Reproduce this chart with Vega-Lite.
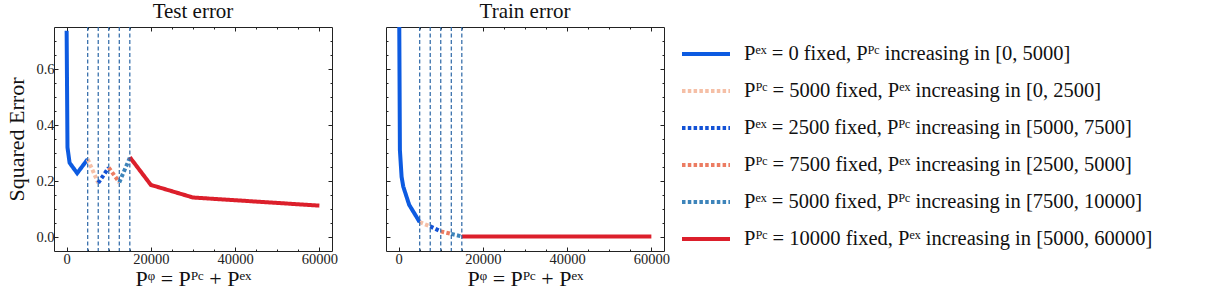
{
  "$schema": "https://vega.github.io/schema/vega-lite/v6.json",
  "padding": {"left": 5, "top": 0, "right": 0, "bottom": 0},
  "datasets": {
    "curves": [
      {"panel": "test", "series": "Pᵉˣ = 0 fixed, Pᴾᶜ increasing in [0, 5000]", "x": 0, "y": 0.737},
      {"panel": "test", "series": "Pᵉˣ = 0 fixed, Pᴾᶜ increasing in [0, 5000]", "x": 200, "y": 0.32},
      {"panel": "test", "series": "Pᵉˣ = 0 fixed, Pᴾᶜ increasing in [0, 5000]", "x": 700, "y": 0.265},
      {"panel": "test", "series": "Pᵉˣ = 0 fixed, Pᴾᶜ increasing in [0, 5000]", "x": 2500, "y": 0.228},
      {"panel": "test", "series": "Pᵉˣ = 0 fixed, Pᴾᶜ increasing in [0, 5000]", "x": 5000, "y": 0.278},
      {"panel": "test", "series": "Pᴾᶜ = 5000 fixed, Pᵉˣ increasing in [0, 2500]", "x": 5000, "y": 0.278},
      {"panel": "test", "series": "Pᴾᶜ = 5000 fixed, Pᵉˣ increasing in [0, 2500]", "x": 7500, "y": 0.193},
      {"panel": "test", "series": "Pᵉˣ = 2500 fixed, Pᴾᶜ increasing in [5000, 7500]", "x": 7500, "y": 0.193},
      {"panel": "test", "series": "Pᵉˣ = 2500 fixed, Pᴾᶜ increasing in [5000, 7500]", "x": 10000, "y": 0.248},
      {"panel": "test", "series": "Pᴾᶜ = 7500 fixed, Pᵉˣ increasing in [2500, 5000]", "x": 10000, "y": 0.248},
      {"panel": "test", "series": "Pᴾᶜ = 7500 fixed, Pᵉˣ increasing in [2500, 5000]", "x": 12500, "y": 0.195},
      {"panel": "test", "series": "Pᵉˣ = 5000 fixed, Pᴾᶜ increasing in [7500, 10000]", "x": 12500, "y": 0.195},
      {"panel": "test", "series": "Pᵉˣ = 5000 fixed, Pᴾᶜ increasing in [7500, 10000]", "x": 15000, "y": 0.283},
      {"panel": "test", "series": "Pᴾᶜ = 10000 fixed, Pᵉˣ increasing in [5000, 60000]", "x": 15000, "y": 0.285},
      {"panel": "test", "series": "Pᴾᶜ = 10000 fixed, Pᵉˣ increasing in [5000, 60000]", "x": 20000, "y": 0.186},
      {"panel": "test", "series": "Pᴾᶜ = 10000 fixed, Pᵉˣ increasing in [5000, 60000]", "x": 30000, "y": 0.141},
      {"panel": "test", "series": "Pᴾᶜ = 10000 fixed, Pᵉˣ increasing in [5000, 60000]", "x": 60000, "y": 0.112},
      {"panel": "train", "series": "Pᵉˣ = 0 fixed, Pᴾᶜ increasing in [0, 5000]", "x": 0, "y": 1.2},
      {"panel": "train", "series": "Pᵉˣ = 0 fixed, Pᴾᶜ increasing in [0, 5000]", "x": 300, "y": 0.31},
      {"panel": "train", "series": "Pᵉˣ = 0 fixed, Pᴾᶜ increasing in [0, 5000]", "x": 700, "y": 0.215},
      {"panel": "train", "series": "Pᵉˣ = 0 fixed, Pᴾᶜ increasing in [0, 5000]", "x": 1100, "y": 0.18},
      {"panel": "train", "series": "Pᵉˣ = 0 fixed, Pᴾᶜ increasing in [0, 5000]", "x": 2500, "y": 0.115},
      {"panel": "train", "series": "Pᵉˣ = 0 fixed, Pᴾᶜ increasing in [0, 5000]", "x": 5000, "y": 0.053},
      {"panel": "train", "series": "Pᴾᶜ = 5000 fixed, Pᵉˣ increasing in [0, 2500]", "x": 5000, "y": 0.053},
      {"panel": "train", "series": "Pᴾᶜ = 5000 fixed, Pᵉˣ increasing in [0, 2500]", "x": 7500, "y": 0.038},
      {"panel": "train", "series": "Pᵉˣ = 2500 fixed, Pᴾᶜ increasing in [5000, 7500]", "x": 7500, "y": 0.038},
      {"panel": "train", "series": "Pᵉˣ = 2500 fixed, Pᴾᶜ increasing in [5000, 7500]", "x": 10000, "y": 0.02},
      {"panel": "train", "series": "Pᴾᶜ = 7500 fixed, Pᵉˣ increasing in [2500, 5000]", "x": 10000, "y": 0.02},
      {"panel": "train", "series": "Pᴾᶜ = 7500 fixed, Pᵉˣ increasing in [2500, 5000]", "x": 12500, "y": 0.011},
      {"panel": "train", "series": "Pᵉˣ = 5000 fixed, Pᴾᶜ increasing in [7500, 10000]", "x": 12500, "y": 0.011},
      {"panel": "train", "series": "Pᵉˣ = 5000 fixed, Pᴾᶜ increasing in [7500, 10000]", "x": 15000, "y": 0.002},
      {"panel": "train", "series": "Pᴾᶜ = 10000 fixed, Pᵉˣ increasing in [5000, 60000]", "x": 15000, "y": 0.002},
      {"panel": "train", "series": "Pᴾᶜ = 10000 fixed, Pᵉˣ increasing in [5000, 60000]", "x": 20000, "y": 0.002},
      {"panel": "train", "series": "Pᴾᶜ = 10000 fixed, Pᵉˣ increasing in [5000, 60000]", "x": 30000, "y": 0.002},
      {"panel": "train", "series": "Pᴾᶜ = 10000 fixed, Pᵉˣ increasing in [5000, 60000]", "x": 60000, "y": 0.002}
    ],
    "splits": [{"x": 5000}, {"x": 7500}, {"x": 10000}, {"x": 12500}, {"x": 15000}]
  },
  "hconcat": [
    {
      "title": {"text": "Test error"},
      "width": 278,
      "height": 224,
      "layer": [
        {
          "data": {"name": "curves"},
          "transform": [{"filter": "datum.panel === 'test'"}],
          "mark": {"type": "line", "strokeWidth": 4, "clip": true},
          "encoding": {
            "x": {"field": "x", "type": "quantitative", "scale": {"domain": [-3000, 63000], "nice": false, "zero": false},
              "axis": {"orient": "bottom", "values": [0, 5000, 10000, 15000, 20000, 25000, 30000, 35000, 40000, 45000, 50000, 55000, 60000], "format": "d",
                "labelExpr": "datum.value % 20000 === 0 ? datum.label : ''",
                "tickSize": {"condition": {"test": "datum.value % 20000 === 0", "value": -4}, "value": -2},
                "title": "Pᵠ = Pᴾᶜ + Pᵉˣ"}},
            "y": {"field": "y", "type": "quantitative", "scale": {"domain": [-0.05, 0.75], "nice": false, "zero": false},
              "axis": {"orient": "left", "values": [0, 0.05, 0.1, 0.15, 0.2, 0.25, 0.3, 0.35, 0.4, 0.45, 0.5, 0.55, 0.6, 0.65, 0.7], "format": ".1f",
                "labelExpr": "abs(datum.value / 0.2 - round(datum.value / 0.2)) < 0.001 ? datum.label : ''",
                "tickSize": {"condition": {"test": "abs(datum.value / 0.2 - round(datum.value / 0.2)) < 0.001", "value": -4}, "value": -2},
                "labelPadding": 4, "titlePadding": 7,
                "title": "Squared Error"}},
            "color": {"field": "series", "type": "nominal", "sort": null,
              "scale": {"domain": ["Pᵉˣ = 0 fixed, Pᴾᶜ increasing in [0, 5000]", "Pᴾᶜ = 5000 fixed, Pᵉˣ increasing in [0, 2500]", "Pᵉˣ = 2500 fixed, Pᴾᶜ increasing in [5000, 7500]", "Pᴾᶜ = 7500 fixed, Pᵉˣ increasing in [2500, 5000]", "Pᵉˣ = 5000 fixed, Pᴾᶜ increasing in [7500, 10000]", "Pᴾᶜ = 10000 fixed, Pᵉˣ increasing in [5000, 60000]"],
                "range": ["#0d5be1", "#f5bfa6", "#1352d6", "#ec7c62", "#3d84ba", "#dc1f2b"]},
              "legend": {"title": null}},
            "strokeDash": {"field": "series", "type": "nominal", "sort": null,
              "scale": {"domain": ["Pᵉˣ = 0 fixed, Pᴾᶜ increasing in [0, 5000]", "Pᴾᶜ = 5000 fixed, Pᵉˣ increasing in [0, 2500]", "Pᵉˣ = 2500 fixed, Pᴾᶜ increasing in [5000, 7500]", "Pᴾᶜ = 7500 fixed, Pᵉˣ increasing in [2500, 5000]", "Pᵉˣ = 5000 fixed, Pᴾᶜ increasing in [7500, 10000]", "Pᴾᶜ = 10000 fixed, Pᵉˣ increasing in [5000, 60000]"],
                "range": [[1, 0], [3.5, 2.3], [3.5, 2.3], [3.5, 2.3], [3.5, 2.3], [1, 0]]},
              "legend": {"title": null}}
          }
        },
        {
          "data": {"name": "splits"},
          "mark": {"type": "rule", "color": "#2a66a6", "strokeDash": [4, 2.5], "strokeWidth": 1.2},
          "encoding": {
            "x": {"field": "x", "type": "quantitative", "scale": {"domain": [-3000, 63000], "nice": false, "zero": false},
              "axis": {"orient": "top", "values": [0, 5000, 10000, 15000, 20000, 25000, 30000, 35000, 40000, 45000, 50000, 55000, 60000], "labels": false,
                "tickSize": {"condition": {"test": "datum.value % 20000 === 0", "value": -4}, "value": -2}, "title": null}}
          }
        },
        {
          "data": {"name": "curves"},
          "transform": [{"filter": "datum.panel === 'test'"}],
          "mark": {"type": "line", "opacity": 0, "clip": true},
          "encoding": {
            "x": {"field": "x", "type": "quantitative", "scale": {"domain": [-3000, 63000], "nice": false, "zero": false}, "axis": null},
            "y": {"field": "y", "type": "quantitative", "scale": {"domain": [-0.05, 0.75], "nice": false, "zero": false},
              "axis": {"orient": "right", "values": [0, 0.05, 0.1, 0.15, 0.2, 0.25, 0.3, 0.35, 0.4, 0.45, 0.5, 0.55, 0.6, 0.65, 0.7], "labels": false,
                "tickSize": {"condition": {"test": "abs(datum.value / 0.2 - round(datum.value / 0.2)) < 0.001", "value": -4}, "value": -2}, "title": null}}
          }
        }
      ],
      "resolve": {"axis": {"x": "independent", "y": "independent"}}
    },
    {
      "title": {"text": "Train error"},
      "width": 278,
      "height": 224,
      "layer": [
        {
          "data": {"name": "curves"},
          "transform": [{"filter": "datum.panel === 'train'"}],
          "mark": {"type": "line", "strokeWidth": 4, "clip": true},
          "encoding": {
            "x": {"field": "x", "type": "quantitative", "scale": {"domain": [-3000, 63000], "nice": false, "zero": false},
              "axis": {"orient": "bottom", "values": [0, 5000, 10000, 15000, 20000, 25000, 30000, 35000, 40000, 45000, 50000, 55000, 60000], "format": "d",
                "labelExpr": "datum.value % 20000 === 0 ? datum.label : ''",
                "tickSize": {"condition": {"test": "datum.value % 20000 === 0", "value": -4}, "value": -2},
                "title": "Pᵠ = Pᴾᶜ + Pᵉˣ"}},
            "y": {"field": "y", "type": "quantitative", "scale": {"domain": [-0.05, 0.75], "nice": false, "zero": false},
              "axis": {"orient": "left", "values": [0, 0.05, 0.1, 0.15, 0.2, 0.25, 0.3, 0.35, 0.4, 0.45, 0.5, 0.55, 0.6, 0.65, 0.7], "labels": false,
                "tickSize": {"condition": {"test": "abs(datum.value / 0.2 - round(datum.value / 0.2)) < 0.001", "value": -4}, "value": -2},
                "title": null}},
            "color": {"field": "series", "type": "nominal", "sort": null,
              "scale": {"domain": ["Pᵉˣ = 0 fixed, Pᴾᶜ increasing in [0, 5000]", "Pᴾᶜ = 5000 fixed, Pᵉˣ increasing in [0, 2500]", "Pᵉˣ = 2500 fixed, Pᴾᶜ increasing in [5000, 7500]", "Pᴾᶜ = 7500 fixed, Pᵉˣ increasing in [2500, 5000]", "Pᵉˣ = 5000 fixed, Pᴾᶜ increasing in [7500, 10000]", "Pᴾᶜ = 10000 fixed, Pᵉˣ increasing in [5000, 60000]"],
                "range": ["#0d5be1", "#f5bfa6", "#1352d6", "#ec7c62", "#3d84ba", "#dc1f2b"]},
              "legend": {"title": null}},
            "strokeDash": {"field": "series", "type": "nominal", "sort": null,
              "scale": {"domain": ["Pᵉˣ = 0 fixed, Pᴾᶜ increasing in [0, 5000]", "Pᴾᶜ = 5000 fixed, Pᵉˣ increasing in [0, 2500]", "Pᵉˣ = 2500 fixed, Pᴾᶜ increasing in [5000, 7500]", "Pᴾᶜ = 7500 fixed, Pᵉˣ increasing in [2500, 5000]", "Pᵉˣ = 5000 fixed, Pᴾᶜ increasing in [7500, 10000]", "Pᴾᶜ = 10000 fixed, Pᵉˣ increasing in [5000, 60000]"],
                "range": [[1, 0], [3.5, 2.3], [3.5, 2.3], [3.5, 2.3], [3.5, 2.3], [1, 0]]},
              "legend": {"title": null}}
          }
        },
        {
          "data": {"name": "splits"},
          "mark": {"type": "rule", "color": "#2a66a6", "strokeDash": [4, 2.5], "strokeWidth": 1.2},
          "encoding": {
            "x": {"field": "x", "type": "quantitative", "scale": {"domain": [-3000, 63000], "nice": false, "zero": false},
              "axis": {"orient": "top", "values": [0, 5000, 10000, 15000, 20000, 25000, 30000, 35000, 40000, 45000, 50000, 55000, 60000], "labels": false,
                "tickSize": {"condition": {"test": "datum.value % 20000 === 0", "value": -4}, "value": -2}, "title": null}}
          }
        },
        {
          "data": {"name": "curves"},
          "transform": [{"filter": "datum.panel === 'train'"}],
          "mark": {"type": "line", "opacity": 0, "clip": true},
          "encoding": {
            "x": {"field": "x", "type": "quantitative", "scale": {"domain": [-3000, 63000], "nice": false, "zero": false}, "axis": null},
            "y": {"field": "y", "type": "quantitative", "scale": {"domain": [-0.05, 0.75], "nice": false, "zero": false},
              "axis": {"orient": "right", "values": [0, 0.05, 0.1, 0.15, 0.2, 0.25, 0.3, 0.35, 0.4, 0.45, 0.5, 0.55, 0.6, 0.65, 0.7], "labels": false,
                "tickSize": {"condition": {"test": "abs(datum.value / 0.2 - round(datum.value / 0.2)) < 0.001", "value": -4}, "value": -2}, "title": null}}
          }
        }
      ],
      "resolve": {"axis": {"x": "independent", "y": "independent"}}
    }
  ],
  "spacing": 47,
  "resolve": {"scale": {"color": "shared", "strokeDash": "shared"}},
  "config": {
    "font": "Liberation Serif",
    "view": {"stroke": "#222", "strokeWidth": 1},
    "axis": {"grid": false, "domain": false, "labelFont": "Liberation Serif", "titleFont": "Liberation Serif", "labelFontSize": 14.5, "titleFontSize": 22, "titleFontWeight": "normal", "labelColor": "#222", "titleColor": "#111", "tickColor": "#222", "labelPadding": 5, "titlePadding": 3},
    "title": {"font": "Liberation Serif", "fontSize": 21, "fontWeight": "normal", "color": "#111", "offset": 0},
    "legend": {"orient": "right", "offset": 9, "symbolType": "stroke", "symbolSize": 2304, "symbolStrokeWidth": 4, "labelFont": "Liberation Serif", "labelFontSize": 20.5, "labelColor": "#111", "labelLimit": 700, "labelOffset": 12, "rowPadding": 0, "padding": 1}
  }
}
